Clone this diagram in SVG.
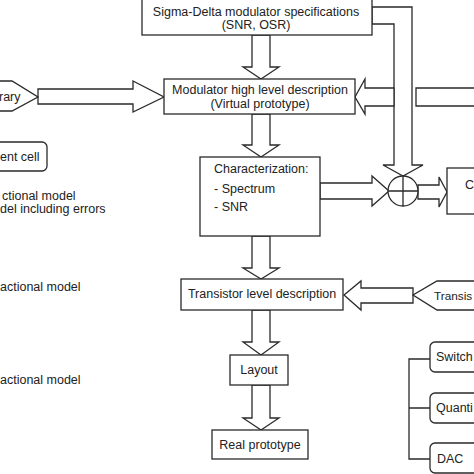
<svg xmlns="http://www.w3.org/2000/svg" width="474" height="474" viewBox="0 0 474 474">
<style>
.b{fill:#fff;stroke:#2a2a2a;stroke-width:1.3}
.l{fill:none;stroke:#2a2a2a;stroke-width:1.3}
text{font-family:"Liberation Sans",Arial,sans-serif;font-size:12.5px;fill:#222}
.c{text-anchor:middle}
</style>
<rect width="474" height="474" fill="#fff"/>
<g id="connectors">
<polygon class="b" points="252,35 270,35 270,67 279,67 261,79 243,67 252,67"/>
<polygon class="b" points="252,114 270,114 270,145 279,145 261,157 243,145 252,145"/>
<polygon class="b" points="252,236 270,236 270,268 279,268 261,279 243,268 252,268"/>
<polygon class="b" points="252,310 270,310 270,342 279,342 261,355 243,342 252,342"/>
<polygon class="b" points="252,385 270,385 270,418 279,418 261,430 243,418 252,418"/>
<polygon class="b" points="38,89 133,89 133,81 164,97 133,112 133,104 38,104"/>
<polygon class="b" points="372,7 412,7 412,165 423,165 403,176 383,165 394,165 394,24 372,24"/>
<polygon class="b" points="394,88 365,88 365,79 355,97 365,114 365,106 394,106"/>
<path class="b" d="M480,88 H416 V106 H480"/>
<polygon class="b" points="320,183 372,183 372,176 389,191 372,206 372,199 320,199"/>
<polygon class="b" points="418,185 439,185 439,177 447,192 439,207 439,199 418,199"/>
<polygon class="b" points="413,288 361,288 361,281 344,295 361,310 361,303 413,303"/>
<path class="l" d="M430,359 H409 V459 H430 M409,408 H430"/>
</g>
<g id="spec"><rect class="b" x="142" y="-2" width="230" height="37"/>
<text class="c" x="256" y="16">Sigma-Delta modulator specifications</text>
<text class="c" x="256" y="29">(SNR, OSR)</text></g>
<g id="library"><path class="b" d="M-5,81 H12 L38,97 L12,111 H-5 Z"/>
<text x="-1" y="101">rary</text></g>
<g id="modulator"><rect class="b" x="164" y="79" width="191" height="35"/>
<text class="c" x="260" y="94">Modulator high level description</text>
<text class="c" x="260" y="108">(Virtual prototype)</text></g>
<g id="sum"><circle class="b" cx="403" cy="191" r="15"/>
<path class="l" d="M388,191 H418 M403,176 V206"/></g>
<g id="cbox"><rect class="b" x="447" y="168" width="40" height="46"/>
<text x="465" y="189">C</text></g>
<g id="characterization"><rect class="b" x="200" y="157" width="120" height="79"/>
<text x="214" y="173">Characterization:</text>
<text x="214" y="193">- Spectrum</text>
<text x="214" y="211">- SNR</text></g>
<g id="transistor"><rect class="b" x="181" y="279" width="162" height="31"/>
<text class="c" x="262" y="298">Transistor level description</text></g>
<g id="translib"><path class="b" d="M480,281 H437 L413,295 L437,310 H480"/>
<text x="434" y="300" style="font-size:11.8px">Transis</text></g>
<g id="layout"><rect class="b" x="230" y="355" width="58" height="30"/>
<text class="c" x="259" y="374">Layout</text></g>
<g id="real"><rect class="b" x="212" y="430" width="96" height="29"/>
<text class="c" x="260" y="449">Real prototype</text></g>
<g id="switch"><rect class="b" x="430" y="342" width="60" height="30" rx="5"/>
<text x="436" y="361">Switch</text></g>
<g id="quanti"><rect class="b" x="430" y="393" width="60" height="30" rx="5"/>
<text x="436" y="412">Quanti</text></g>
<g id="dac"><rect class="b" x="430" y="443" width="60" height="30" rx="5"/>
<text x="437" y="463">DAC</text></g>
<g id="cell"><rect class="b" x="-10" y="142" width="57" height="29" rx="5"/>
<text x="0" y="161">ent cell</text></g>
<g id="legend">
<text x="2" y="200">ctional model</text>
<text x="0" y="213">del including errors</text>
<text x="0" y="291">actional model</text>
<text x="0" y="384">actional model</text></g>
</svg>
